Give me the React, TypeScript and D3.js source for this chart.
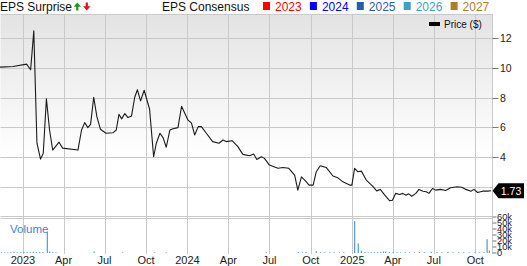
import React from "react";
import * as d3 from "d3";

// ---------- data ----------
const priceDates = [
  "2022-11-11","2022-12-10","2023-01-09","2023-01-18","2023-01-25","2023-02-01","2023-02-09","2023-02-15",
  "2023-02-22","2023-03-01","2023-03-08","2023-03-22","2023-03-30","2023-05-03","2023-05-11","2023-05-18",
  "2023-05-25","2023-05-31","2023-06-07","2023-06-14","2023-06-22","2023-07-04","2023-07-20","2023-07-27",
  "2023-08-02","2023-08-08","2023-08-15","2023-08-22","2023-08-30","2023-09-06","2023-09-12","2023-09-19",
  "2023-09-27","2023-10-09","2023-10-18","2023-10-24","2023-11-01","2023-11-08","2023-11-15","2023-11-23",
  "2023-11-30","2023-12-11","2023-12-19","2024-01-02","2024-01-10","2024-01-17","2024-01-25","2024-02-01",
  "2024-02-12","2024-02-26","2024-03-11","2024-03-20","2024-03-27","2024-04-09","2024-04-22","2024-05-03",
  "2024-05-18","2024-05-27","2024-06-03","2024-06-13","2024-06-20","2024-07-01","2024-07-20","2024-07-31",
  "2024-08-13","2024-08-26","2024-09-02","2024-09-10","2024-09-19","2024-09-27","2024-10-06","2024-10-13",
  "2024-10-22","2024-11-04","2024-11-19","2024-11-30","2024-12-11","2024-12-26","2024-12-31","2025-01-06",
  "2025-01-13","2025-01-21","2025-02-01","2025-02-15","2025-02-24","2025-03-04","2025-03-14","2025-03-25",
  "2025-03-31","2025-04-07","2025-04-16","2025-04-23","2025-04-30","2025-05-06","2025-05-13","2025-05-22",
  "2025-05-29","2025-06-07","2025-06-14","2025-06-20","2025-06-28","2025-07-05","2025-07-16","2025-07-27",
  "2025-08-07","2025-08-22","2025-09-01","2025-09-10","2025-09-21","2025-09-28","2025-10-06","2025-10-17",
  "2025-10-28","2025-11-05"
];
const priceValues = [
  10.06,10.1,10.26,9.88,12.5,4.93,3.86,4.25,
  7.92,5.82,4.47,5.0,4.6,4.47,5.82,6.32,
  5.98,6.2,8.03,6.72,5.87,5.6,5.64,5.82,
  6.88,6.57,6.93,6.66,6.77,8.03,8.53,7.78,
  8.5,7.22,4.02,4.93,5.6,5.31,4.66,5.82,
  5.91,5.98,7.42,6.5,6.28,5.49,6.05,6.05,
  5.6,5.04,4.93,5.15,5.04,5.1,4.7,4.18,
  4.09,4.2,3.84,4.02,3.91,3.46,3.24,3.3,
  3.24,2.78,1.77,2.67,2.4,2.11,2.11,3.01,
  3.41,3.3,2.72,2.6,2.33,2.11,2.11,3.24,
  3.01,3.05,2.45,2.04,1.72,1.82,1.43,1.05,
  1.09,1.55,1.48,1.55,1.43,1.52,1.36,1.55,
  1.82,1.7,1.66,1.55,1.88,1.77,1.82,1.75,
  1.93,2.0,1.96,1.82,1.7,1.82,1.61,1.7,
  1.7,1.73
];

const volumeDates = [
  "2022-11-14","2022-11-21","2022-11-28","2022-12-05","2022-12-12","2022-12-19","2022-12-27","2023-01-03",
  "2023-01-10","2023-01-17","2023-01-24","2023-01-31","2023-02-07","2023-02-14","2023-02-24","2023-03-01",
  "2023-03-08","2023-03-15","2023-06-08","2023-08-10","2023-10-20","2023-11-15","2024-06-24","2024-09-03",
  "2024-09-12","2024-09-20","2024-10-13","2024-10-22","2024-11-01","2024-11-12","2024-11-22","2024-12-03",
  "2024-12-13","2025-01-06","2025-01-14","2025-01-21","2025-01-29","2025-02-05","2025-02-12","2025-02-19",
  "2025-02-26","2025-03-05","2025-03-11","2025-03-16","2025-03-24","2025-04-01","2025-04-10","2025-04-18",
  "2025-04-28","2025-05-08","2025-05-19","2025-05-30","2025-06-10","2025-06-25","2025-07-08","2025-07-18",
  "2025-08-01","2025-08-12","2025-08-25","2025-09-05","2025-09-17","2025-09-29","2025-10-10","2025-10-20",
  "2025-10-27","2025-11-01"
];
const volumeValues = [
  1200,1000,1100,1300,1500,1000,1200,1400,
  1600,1300,2000,1700,1800,1500,35000,2500,
  1500,1200,2500,1000,1200,1000,1000,1500,
  1200,1400,3000,1200,1000,1200,1000,1100,
  1000,53000,16000,3800,1500,1300,1200,1400,
  1500,1600,2600,2400,1500,1300,1200,1100,
  1300,1200,1100,1300,1200,2000,1300,1200,
  2000,1200,1100,1300,1200,1100,1200,1300,
  23000,4000
];

const xTickDates = [
  "2023-01-01","2023-04-01","2023-07-01","2023-10-01","2024-01-01","2024-04-01",
  "2024-07-01","2024-10-01","2025-01-01","2025-04-01","2025-07-01","2025-10-01"
];
const xTickLabels = ["2023","Apr","Jul","Oct","2024","Apr","Jul","Oct","2025","Apr","Jul","Oct"];
const priceGridTicks = [2, 4, 6, 8, 10, 12];
const priceLabelTicks = [4, 6, 8, 10, 12];
const volumeTicks = [0, 10000, 20000, 30000, 40000, 50000, 60000];
const legendYears = ["2023", "2024", "2025", "2026", "2027"];
const legendColors = ["#ff0000", "#0000ff", "#1f5fae", "#3d9fd0", "#b07b2e"];
const lastPrice = 1.73;

// ---------- layout ----------
const W = 527;
const H = 266;
const plotL = 0.5;
const plotR = 492.5;
const plotT = 14.5;
const priceBottom = 216.5;
const volTop = 218.5;
const volBottom = 253;
const FONT = "'Liberation Sans', Arial, Helvetica, sans-serif";

export default function App() {
  const parse = d3.timeParse("%Y-%m-%d");
  const x = d3
    .scaleTime()
    .domain([parse("2022-11-11") as Date, parse("2025-11-07") as Date])
    .range([0, 492]);
  const y = d3.scaleLinear().domain([0, 12]).range([216.4, 38.3]);
  const yv = d3.scaleLinear().domain([0, 60000]).range([volBottom, 217]);

  const pts = priceDates.map((d, i) => [x(parse(d) as Date), y(priceValues[i])] as [number, number]);
  const line = d3.line<[number, number]>().x((p) => p[0]).y((p) => p[1]);

  const ly = y(lastPrice);

  return (
    <div style={{ position: "absolute", left: 0, top: 0, width: W, height: H, background: "#fff" }}>
      <svg width={W} height={H} style={{ display: "block", fontFamily: FONT }}>
        <defs>
          <linearGradient id="bg" x1="0" y1="0" x2="0" y2="1">
            <stop offset="0%" stopColor="#e3e3e3" />
            <stop offset="70%" stopColor="#ffffff" />
            <stop offset="100%" stopColor="#ffffff" />
          </linearGradient>
        </defs>

        {/* price panel background */}
        <rect x={plotL} y={plotT} width={plotR - plotL} height={priceBottom - plotT} fill="url(#bg)" />

        {/* horizontal gridlines */}
        {priceGridTicks.map((t) => (
          <line key={"hg" + t} x1={plotL} x2={plotR} y1={Math.round(y(t)) + 0.5} y2={Math.round(y(t)) + 0.5}
            stroke="#c9c9c9" strokeWidth={1} />
        ))}
        {/* vertical gridlines */}
        {xTickDates.map((d) => {
          const xx = Math.round(x(parse(d) as Date)) + 0.5;
          return <line key={"vg" + d} x1={xx} x2={xx} y1={plotT} y2={volBottom + 1} stroke="#c9c9c9" strokeWidth={1} />;
        })}

        {/* panel borders */}
        <line x1={plotL} x2={plotR} y1={plotT} y2={plotT} stroke="#c9c9c9" />
        <line x1={plotL} x2={plotR} y1={priceBottom} y2={priceBottom} stroke="#c9c9c9" />
        <line x1={plotL} x2={plotR} y1={volTop} y2={volTop} stroke="#c9c9c9" />
        <line x1={plotR} x2={plotR} y1={plotT} y2={volBottom + 1} stroke="#c9c9c9" />

        {/* price line */}
        <path d={line(pts) || ""} fill="none" stroke="#1a1a1a" strokeWidth={1.1} strokeLinejoin="round" />

        {/* volume bars */}
        {volumeDates.map((d, i) => {
          const xx = x(parse(d) as Date);
          const top = yv(volumeValues[i]);
          return <rect key={"v" + i} x={xx - 0.6} y={top} width={1.3} height={volBottom - top} fill="#5d9fd8" />;
        })}
        <text x={10} y={233} fontSize={11.5} fill="#3a88c9">Volume</text>

        {/* price axis */}
        {priceLabelTicks.map((t) => {
          const yy = Math.round(y(t)) + 0.5;
          return (
            <g key={"pt" + t}>
              <line x1={plotR} x2={plotR + 6} y1={yy} y2={yy} stroke="#777" />
              <text x={500} y={yy + 3.8} fontSize={10.5} fill="#222">{t}</text>
            </g>
          );
        })}

        {/* volume axis */}
        {volumeTicks.map((t) => {
          const yy = yv(t);
          return (
            <g key={"vt" + t}>
              <line x1={plotR} x2={plotR + 4} y1={yy} y2={yy} stroke="#777" />
              <text x={497} y={yy + 3.2} fontSize={9.3} fill="#222">{t === 0 ? "0" : t / 1000 + "k"}</text>
            </g>
          );
        })}

        {/* last price label */}
        <path d={`M${plotR},${ly} L${plotR + 6},${ly - 7.5} L524,${ly - 7.5} L524,${ly + 7.5} L${plotR + 6},${ly + 7.5} Z`} fill="#000" />
        <text x={511} y={ly + 3.8} fontSize={10.5} fill="#fff" textAnchor="middle">{lastPrice.toFixed(2)}</text>

        {/* x axis labels */}
        {xTickDates.map((d, i) => (
          <text key={"xl" + d} x={x(parse(d) as Date)} y={264} fontSize={11} fill="#222" textAnchor="middle">
            {xTickLabels[i]}
          </text>
        ))}

        {/* header */}
        <text x={0} y={10.5} fontSize={12} fill="#111">EPS Surprise</text>
        <path d="M77.3,2.5 L81,6.7 L78.4,6.7 L78.4,10.5 L76.2,10.5 L76.2,6.7 L73.6,6.7 Z" fill="#1a9a1a" />
        <path d="M86.8,10.5 L90.5,6.3 L87.9,6.3 L87.9,2.5 L85.7,2.5 L85.7,6.3 L83.1,6.3 Z" fill="#e8140e" />
        <text x={162} y={10.5} fontSize={12} fill="#111">EPS Consensus</text>
        {legendYears.map((yr, i) => {
          const tx = 275 + i * 46.9;
          return (
            <g key={yr}>
              <rect x={tx - 12} y={2} width={7} height={8} fill={legendColors[i]} />
              <text x={tx} y={10.5} fontSize={12} fill={legendColors[i]}>{yr}</text>
            </g>
          );
        })}

        {/* price legend */}
        <rect x={429} y={22} width={11} height={4} fill="#000" />
        <text x={444} y={28} fontSize={10} fill="#111">Price ($)</text>
      </svg>
    </div>
  );
}
